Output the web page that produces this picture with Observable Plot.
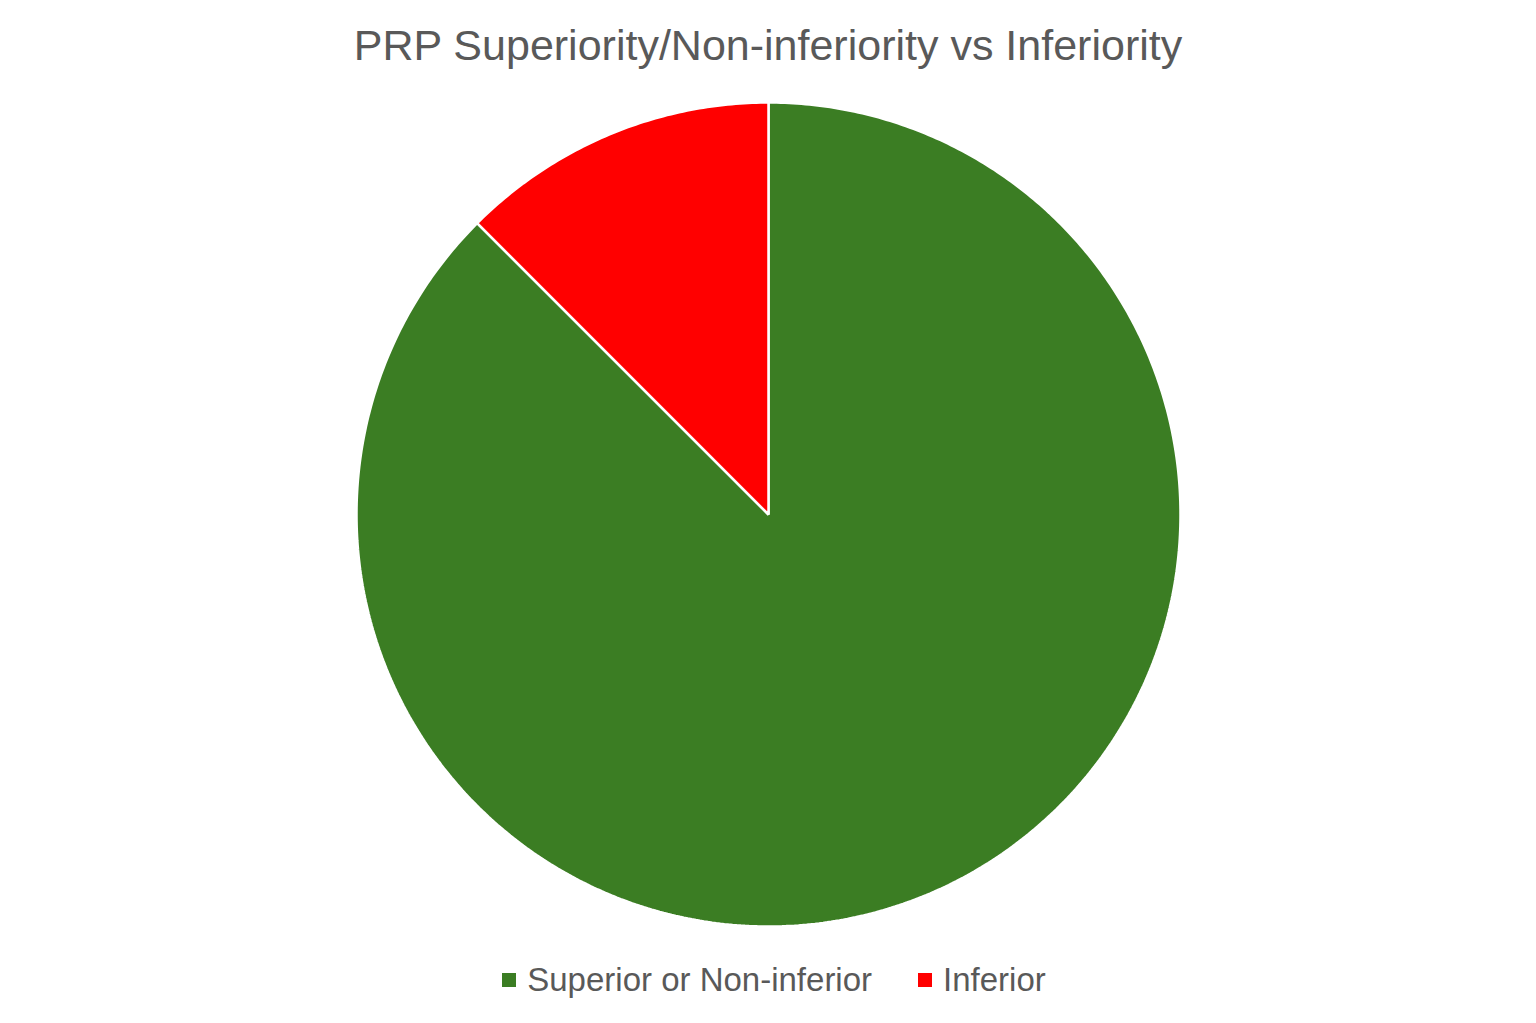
<!DOCTYPE html>
<html>
<head>
<meta charset="utf-8">
<script src="https://cdn.jsdelivr.net/npm/d3@7"></script>
<script src="https://cdn.jsdelivr.net/npm/@observablehq/plot@0.6"></script>
<style>
  html, body { margin: 0; padding: 0; background: #fff; }
  body { width: 1536px; height: 1023px; position: relative; overflow: hidden; font-family: "Liberation Sans", Arial, sans-serif; }
  #title { position: absolute; top: 0; left: 0; width: 1536px; height: 90px; line-height: 90px; text-align: center; font-size: 43px; color: #595959; }
  #chart { position: absolute; top: 102px; left: 0; }
  #legend { position: absolute; top: 954px; left: 6px; width: 1536px; height: 44px; line-height: 44px; text-align: center; font-size: 33px; color: #595959; white-space: nowrap; }
  .item { display: inline-flex; align-items: center; margin: 0 23px; }
  .sw { width: 14px; height: 14px; display: inline-block; margin-right: 11px; }
</style>
</head>
<body>
<div id="title">PRP Superiority/Non-inferiority vs Inferiority</div>
<div id="chart"></div>
<div id="legend"></div>
<script>
const categories = ["Superior or Non-inferior", "Inferior"];
const values = [7, 1];
const colors = ["#3B7D23", "#FF0000"];

const data = categories.map((c, i) => ({name: c, value: values[i]}));
const arcs = d3.pie().sort(null).value(d => d.value)(data);

// build polygon outlines for each slice from pie angles
const pts = [];
arcs.forEach(a => {
  const n = Math.max(2, Math.ceil((a.endAngle - a.startAngle) / 0.01));
  pts.push({name: a.data.name, x: 0, y: 0});
  for (let k = 0; k <= n; k++) {
    const t = a.startAngle + (a.endAngle - a.startAngle) * k / n;
    pts.push({name: a.data.name, x: Math.sin(t), y: Math.cos(t)});
  }
});

const W = 1536, H = 824, R = H / 2;
const chart = Plot.plot({
  width: W,
  height: H,
  margin: 0,
  x: {domain: [-W / 2 / R, W / 2 / R], axis: null},
  y: {domain: [-1, 1], axis: null},
  color: {domain: categories, range: colors},
  marks: [
    Plot.line(pts, {x: "x", y: "y", z: "name", fill: "name", stroke: "white", strokeWidth: 2.5, curve: "linear-closed", strokeLinejoin: "miter"})
  ]
});
document.getElementById("chart").appendChild(chart);

const legend = document.getElementById("legend");
categories.forEach((c, i) => {
  const it = document.createElement("span");
  it.className = "item";
  it.innerHTML = `<span class="sw" style="background:${colors[i]}"></span><span>${c}</span>`;
  legend.appendChild(it);
});
</script>
</body>
</html>
